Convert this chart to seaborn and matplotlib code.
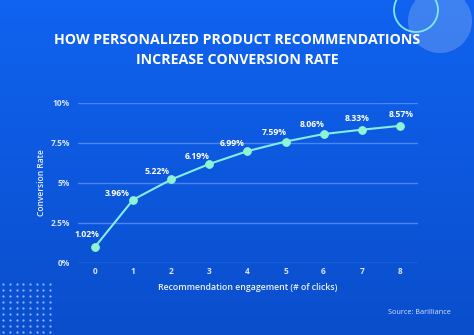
import numpy as np
import pandas as pd
import matplotlib
matplotlib.use("Agg")
import matplotlib.pyplot as plt
from matplotlib.patches import Circle
import seaborn as sns

# Data
clicks = [0, 1, 2, 3, 4, 5, 6, 7, 8]
conversion_rate = [1.02, 3.96, 5.22, 6.19, 6.99, 7.59, 8.06, 8.33, 8.57]
y_ticks = [0, 2.5, 5, 7.5, 10]
y_tick_labels = ["0%", "2.5%", "5%", "7.5%", "10%"]

title = "HOW PERSONALIZED PRODUCT RECOMMENDATIONS\nINCREASE CONVERSION RATE"
x_label = "Recommendation engagement (# of clicks)"
y_label = "Conversion Rate"
source = "Source: Barilliance"

df = pd.DataFrame({"clicks": clicks, "rate": conversion_rate})

sns.set_theme(style="white")
plt.rcParams["font.family"] = ["Open Sans", "DejaVu Sans"]

W, H = 474, 335
fig = plt.figure(figsize=(W / 100, H / 100), dpi=100)

# Background gradient
bg = fig.add_axes([0, 0, 1, 1], zorder=-10)
bg.set_axis_off()
top = np.array([0x10, 0x63, 0xf0]) / 255
bot = np.array([0x0a, 0x4e, 0xcc]) / 255
t = np.linspace(0, 1, 256)[:, None]
grad = top[None, :] * (1 - t) + bot[None, :] * t
bg.imshow(grad[:, None, :].repeat(2, axis=1), aspect="auto", extent=[0, W, H, 0])
bg.set_xlim(0, W)
bg.set_ylim(H, 0)

# Decorative circles
bg.add_patch(Circle((440, 21), 32, facecolor="white", alpha=0.2, edgecolor="none"))
bg.add_patch(Circle((416, 10), 22, facecolor="none", edgecolor="#86e6f2", lw=1.3))

# Dot grid in the lower-left corner
dx = np.arange(8) * 6.7 + 3.3
dy = np.arange(9) * 6.0 + 284
gx, gy = np.meshgrid(dx, dy)
bg.scatter(gx.ravel(), gy.ravel(), s=2.6, color="#a6c4ff", alpha=0.85, linewidths=0)

# Main chart
ax = fig.add_axes([78 / W, (H - 263) / H, 340 / W, 160 / H])
ax.set_facecolor("none")
sns.lineplot(data=df, x="clicks", y="rate", ax=ax, color="#86ecea", lw=1.5,
             marker="o", markersize=5.5, markerfacecolor="#8ef5d2",
             markeredgecolor="#8ef5d2", clip_on=False, zorder=5)

ax.set_xlim(-0.45, 8.48)
ax.set_ylim(0, 10)
ax.set_yticks(y_ticks)
ax.set_yticklabels(y_tick_labels)
ax.set_xticks(clicks)
ax.grid(axis="y", color="#4a86f2", lw=1)
ax.grid(axis="x", visible=False)
for s in ax.spines.values():
    s.set_visible(False)
ax.tick_params(axis="both", length=0, labelsize=6, labelcolor="#d8e4ff")
ax.tick_params(axis="y", pad=6)
ax.tick_params(axis="x", pad=3)
for lab in ax.get_xticklabels() + ax.get_yticklabels():
    lab.set_fontweight("bold")

ax.set_xlabel(x_label, fontsize=6.3, color="#eef3ff", fontweight="semibold", labelpad=5)
ax.set_ylabel(y_label, fontsize=6.1, color="#eef3ff", fontweight="semibold", labelpad=3)

# Value labels
offsets = [(-8, 12), (-16, 6), (-14, 8), (-12, 7), (-15, 8), (-11, 9), (-11, 10), (-4, 11), (2, 11)]
for xv, yv, (ox, oy) in zip(clicks, conversion_rate, offsets):
    ax.annotate(f"{yv:.2f}%", (xv, yv), xytext=(ox * 0.72, oy * 0.72),
                textcoords="offset points", ha="center", va="center",
                fontsize=6.2, fontweight="bold", color="white", zorder=6)

fig.text(237 / W, 1 - 50 / H, title, ha="center", va="center", fontsize=10.2,
         fontweight="bold", color="white", linespacing=1.5)
fig.text(451 / W, 1 - 313 / H, source, ha="right", va="center", fontsize=5.2,
         color="#d8e4ff")

fig.savefig("out.png", dpi=100)
